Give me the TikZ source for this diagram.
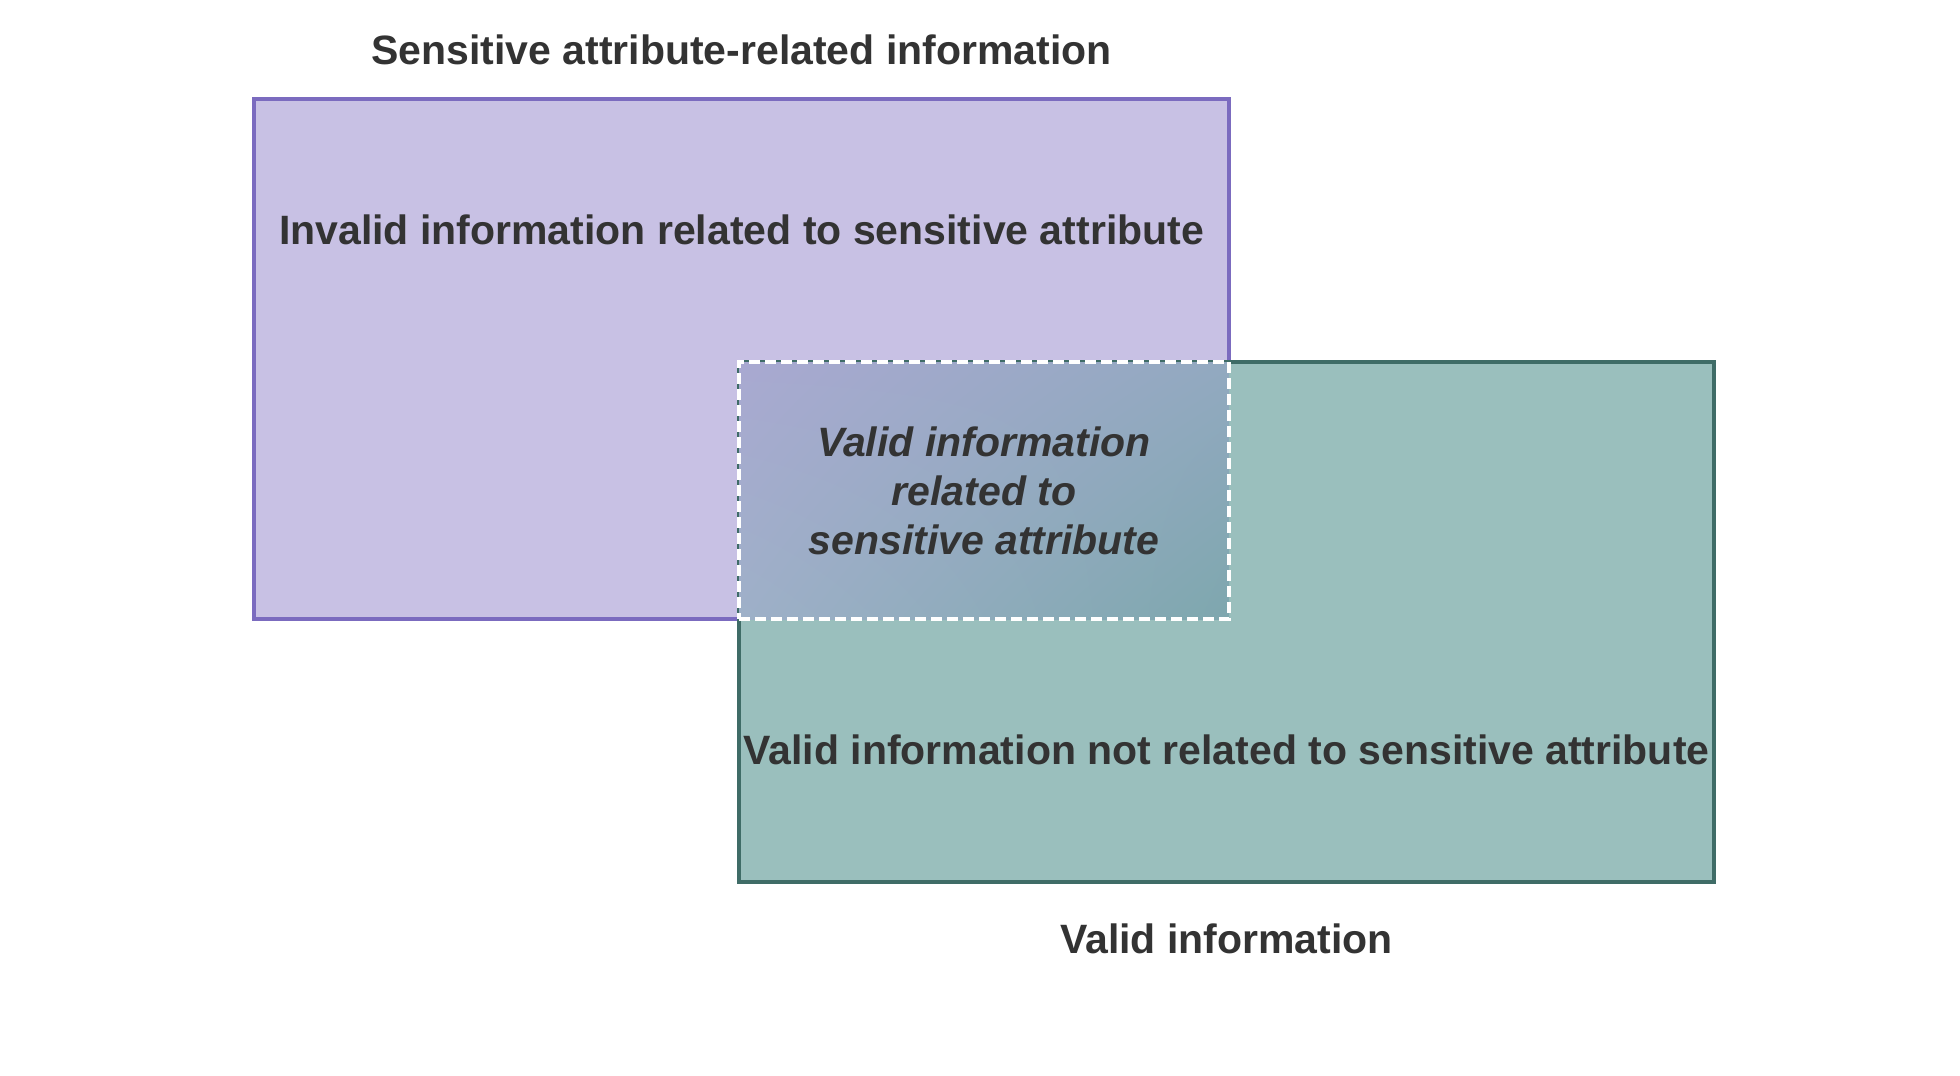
\documentclass[tikz,border=0pt]{standalone}
\usepackage{fontspec}
\setmainfont{Liberation Sans}
\usetikzlibrary{positioning,shadings}
\definecolor{sensfill}{HTML}{C8C1E4}
\definecolor{sensline}{HTML}{7B6BBF}
\definecolor{validfill}{HTML}{9ABFBD}
\definecolor{validline}{HTML}{3F6C67}
\definecolor{txtcol}{HTML}{333333}
\definecolor{mixa}{HTML}{A9A9D1}
\definecolor{mixb}{HTML}{7EA7AE}
\definecolor{mixc}{HTML}{92A9C0}
\definecolor{mixd}{HTML}{9EB0C8}

\begin{document}
\begin{tikzpicture}[x=0.5pt,y=-0.5pt,
	box/.style={rectangle,minimum width=487.5pt,minimum height=260pt,inner sep=0pt},
	txt/.style={text=txtcol,font=\bfseries\fontsize{20.5}{24.5}\selectfont,align=center}]
	\useasboundingbox (0,0) rectangle (1960,1076);
	% the two sets
	\node[box,fill=sensfill,draw=sensline,line width=1.6pt] (sens) at (741.5,359) {};
	\node[box,fill=validfill,draw=validline,line width=1.75pt] (valid) at (1226.5,622) {};
	% overlap
	\node[txt,font=\bfseries\itshape\fontsize{20.5}{24.5}\selectfont,rectangle,minimum width=245pt,minimum height=128.5pt,inner sep=0pt,
		upper left=mixa,upper right=mixc,lower left=mixd,lower right=mixb,
		draw=white,line width=1.75pt,dash pattern=on 5.5pt off 2.5pt] (both) at (984,490.5)
		{Valid information\\related to\\sensitive attribute};
	% labels
	\node[txt] (senstitle) at (741.5,50) {Sensitive attribute-related information};
	\node[txt] (invalid) at (741.5,230) {Invalid information related to sensitive attribute};
	\node[txt] (notrel) at (1226.5,750) {Valid information not related to sensitive attribute};
	\node[txt] (validtitle) at (1226.5,939) {Valid information};
\end{tikzpicture}
\end{document}
